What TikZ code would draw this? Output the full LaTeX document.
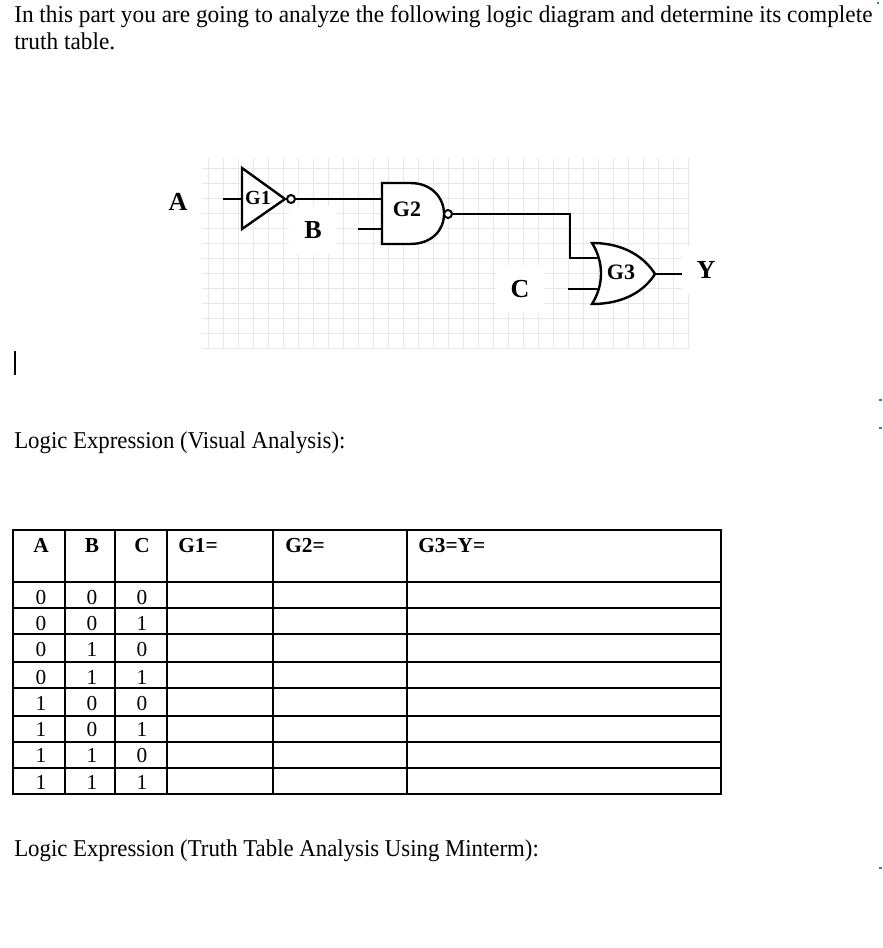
\documentclass[tikz,border=0pt]{standalone}
\usepackage{fontspec}
\setmainfont{Liberation Serif}
\newfontfamily\parafont[FakeStretch=0.945]{Liberation Serif}
\newfontfamily\titlefont[FakeStretch=0.965]{Liberation Serif}
\definecolor{gridgray}{gray}{0.91}
\definecolor{markblue}{HTML}{4472C4}
\tikzset{
  para/.style={anchor=base west,inner sep=0pt,font=\parafont\fontsize{18.1}{20}\selectfont},
  titleline/.style={anchor=base west,inner sep=0pt,font=\titlefont\fontsize{18.1}{20}\selectfont},
  lbl/.style={fill=white,inner sep=0pt,minimum size=36pt,font=\fontsize{19.5}{20}\selectfont\bfseries},
  gatetxt/.style={inner sep=0pt,font=\fontsize{16.5}{18}\selectfont\bfseries},
  bubble/.style={circle,draw,fill=white,line width=1.5pt,inner sep=0pt,minimum size=6pt},
  wire/.style={line width=1.8pt},
  gate/.style={line width=1.8pt,fill=white,line join=miter},
  hdr/.style={anchor=base,inner sep=0pt,font=\fontsize{16}{18}\selectfont\bfseries},
  digit/.style={anchor=base,inner sep=0pt,font=\fontsize{16}{18}\selectfont}
}
\begin{document}
\begin{tikzpicture}[x=0.75pt,y=-0.75pt]
\useasboundingbox (0,0) rectangle (882,948);
\node[titleline] (line1) at (14,23) {In this part you are going to analyze the following logic diagram and determine its complete};
\node[titleline] (line2) at (14,50) {truth table.};
% grid behind the gates
\foreach \x in {208,223,...,688} \draw[gridgray,line width=0.7pt](\x,158)--(\x,348);
\foreach \y in {168,183,...,348} \draw[gridgray,line width=0.7pt](202,\y)--(690,\y);
\node[lbl] (lblB) at (313,230) {B};
\node[lbl] (lblC) at (520,289) {C};
\node[lbl] (lblY) at (706,270) {Y};
\node[lbl,fill=none] (lblA) at (178,202) {A};
% pins
\coordinate (ina) at (223,199);
\coordinate (inb) at (358,229);
\coordinate (inc) at (568,289);
\coordinate (g1in) at (242,199);
\coordinate (g2a) at (382,199);
\coordinate (g2b) at (382,229);
\coordinate (bend1) at (570,214);
\coordinate (bend2) at (570,258);
\coordinate (g3a) at (598,258);
\coordinate (g3b) at (598,289);
\coordinate (g3out) at (655,274);
\coordinate (outy) at (682,274);
% G1
\draw[gate] (242,168)--(285,199)--(242,229)--cycle;
\node[bubble] (n1) at (291,199) {};
\node[gatetxt,font=\fontsize{15}{18}\selectfont\bfseries] (g1) at (258,198) {G1};
% G2
\draw[gate] (382,183)--(410,183) .. controls (432,183) and (444,198) .. (444,214)
  .. controls (444,230) and (432,244) .. (410,244)--(382,244)--cycle;
\node[bubble] (n2) at (448,214) {};
\node[gatetxt] (g2) at (407,209) {G2};
% G3
\draw[gate] (592,243) .. controls (625,243) and (645,258) .. (655,274)
  .. controls (645,290) and (625,304) .. (592,304)
  .. controls (604,285) and (604,262) .. (592,243)--cycle;
\node[gatetxt] (g3) at (621,272) {G3};
% wires
\draw[wire] (ina)--(g1in);
\draw[wire] (n1)--(g2a);
\draw[wire] (inb)--(g2b);
\draw[wire] (n2)--(bend1)--(bend2)--(g3a);
\draw[wire] (inc)--(g3b);
\draw[wire] (g3out)--(outy);
% stray page marks
\fill (14,351) rectangle (16,375);
\fill[markblue] (877,2) rectangle (879,4);
\foreach \y in {399,427,867} \fill[markblue] (879,\y) rectangle (882,\y+2);
\node[para] (visual) at (14,448) {Logic Expression (Visual Analysis):};
% table
\foreach \x in {13,65,115,167,273,407,721} \draw[line width=1.5pt,line cap=rect](\x,530)--(\x,794);
\foreach \y in {530,582,608,634,662,688,716,742,768,794} \draw[line width=1.5pt,line cap=rect](13,\y)--(721,\y);
\foreach \n/\x in {A/41,B/92,C/142} \node[hdr] (h\n) at (\x,552) {\n};
\node[hdr,anchor=base west] (hG1) at (178,552) {G1=};
\node[hdr,anchor=base west] (hG2) at (285,552) {G2=};
\node[hdr,anchor=base west] (hG3) at (418,552) {G3=Y=};
\foreach \r/\y/\a/\b/\c in {1/604/0/0/0,2/630/0/0/1,3/656/0/1/0,4/684/0/1/1,5/710/1/0/0,6/736/1/0/1,7/762/1/1/0,8/789/1/1/1}{
  \node[digit] (a\r) at (41,\y) {\a};
  \node[digit] (b\r) at (92,\y) {\b};
  \node[digit] (c\r) at (142,\y) {\c};
}
\node[para] (minterm) at (14,856) {Logic Expression (Truth Table Analysis Using Minterm):};
\end{tikzpicture}
\end{document}
